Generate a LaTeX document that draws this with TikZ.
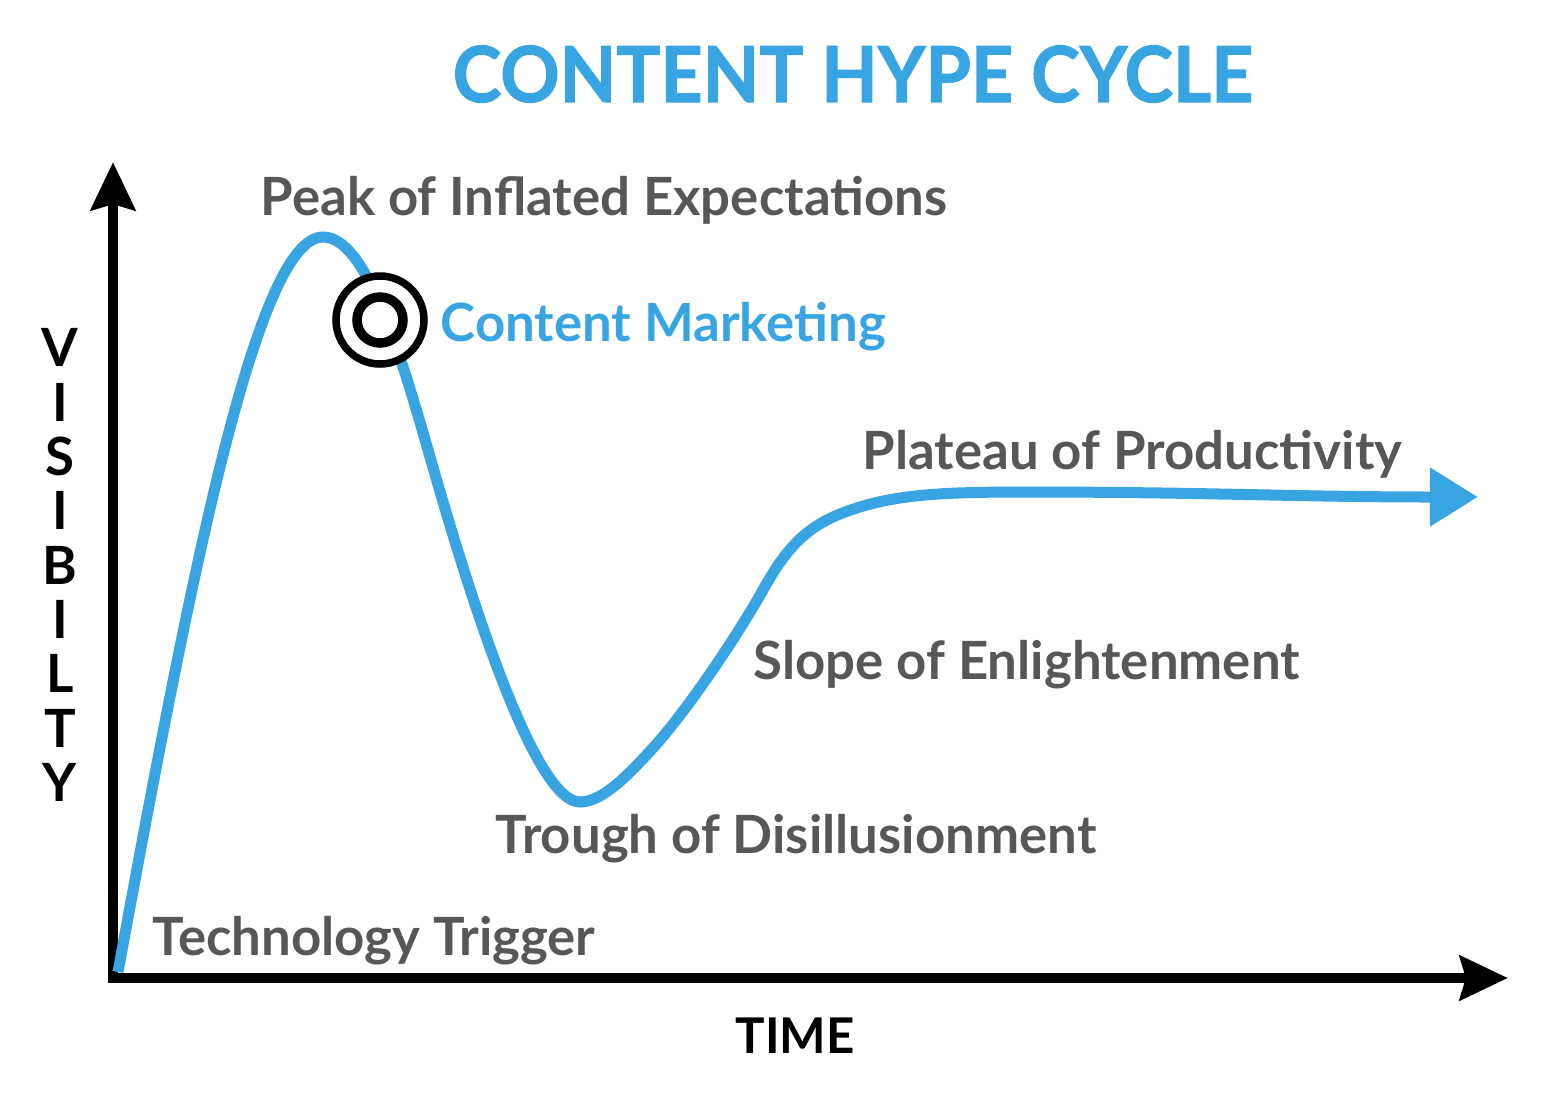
\documentclass[tikz,border=0pt]{standalone}
\usepackage{fontspec}
\setmainfont{Lato}
\newfontfamily\titlefont{Lato}[BoldFeatures={FakeBold=1.4}]
\usetikzlibrary{arrows.meta, positioning}
\definecolor{hypeblue}{HTML}{38A5E2}
\definecolor{labelgray}{HTML}{575757}

\begin{document}
\begin{tikzpicture}[
    x=0.01cm, y=-0.01cm,
    phase/.style={anchor=base west, inner sep=0, font=\fontsize{15}{18}\selectfont\bfseries, text=labelgray},
    axis/.style={line width=1.05mm, {Stealth[length=4.8mm, width=4.4mm, inset=0.6mm]}-{Stealth[length=4.8mm, width=4.4mm, inset=0.6mm]}},
    hype/.style={line width=1.1mm, draw=hypeblue, -{Triangle[length=4.8mm, width=5.6mm]}},
    ring/.style={draw, fill=white}
]
\useasboundingbox (0,0) rectangle (1568,1108);

% title and axes
\node[anchor=base, inner sep=0, font=\fontsize{22}{26}\selectfont\titlefont\bfseries, text=hypeblue] (title) at (853,102) {\scalebox{0.95}[1]{CONTENT HYPE CYCLE}};

\coordinate (ytip) at (113,162);
\coordinate (origin) at (113,978);
\coordinate (xtip) at (1508,978);
\draw[axis] (ytip) -- (origin) -- (xtip);

\node[anchor=base, inner sep=0, font=\fontsize{14}{18}\selectfont\bfseries] (time) at (795,1053) {TIME};
\node[align=center, inner sep=0, font=\fontsize{15}{15.45}\selectfont\bfseries] (visibility) at (60,565) {V\\I\\S\\I\\B\\I\\L\\T\\Y};

% the hype curve
\coordinate (trigger) at (118,972);
\coordinate (peak) at (323,237);
\coordinate (fall) at (428,450);
\coordinate (trough) at (580,802);
\coordinate (rise) at (653,748);
\coordinate (slope) at (763,590);
\coordinate (knee) at (840,514);
\coordinate (plateau) at (1030,492);
\coordinate (future) at (1478,497);
\draw[hype] (trigger) .. controls (190,580) and (256,237) .. (peak)
    .. controls (365,237) and (398,345) .. (fall)
    .. controls (458,555) and (530,802) .. (trough)
    .. controls (603,802) and (630,773) .. (rise)
    .. controls (690,707) and (740,631) .. (slope)
    .. controls (785,550) and (805,528) .. (knee)
    .. controls (890,494) and (940,492) .. (plateau)
    .. controls (1200,492) and (1300,497) .. (future);

% where content marketing sits
\coordinate (marker) at (380,320);
\draw[ring, line width=0.75mm] (marker) circle[radius=44];
\draw[ring, line width=0.95mm] (marker) circle[radius=23];

% phase labels
\node[phase] (peaklbl) at (260,215) {Peak of Inflated Expectations};
\node[phase, text=hypeblue] (content) at (440,341) {Content Marketing};
\node[phase] (plateaulbl) at (862,469) {Plateau of Productivity};
\node[phase] (slopelbl) at (753,679) {Slope of Enlightenment};
\node[phase] (troughlbl) at (495,853) {Trough of Disillusionment};
\node[phase] (triggerlbl) at (152,955) {Technology Trigger};

\end{tikzpicture}
\end{document}
